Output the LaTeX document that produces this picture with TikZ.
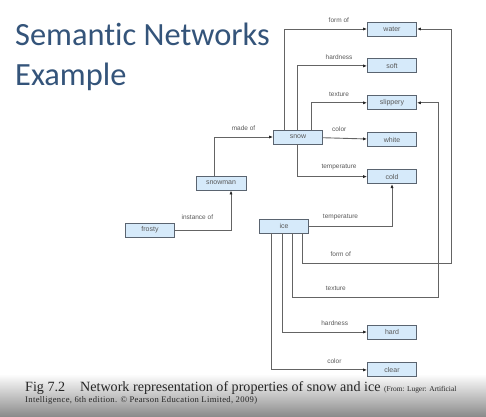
\documentclass[tikz,border=0pt]{standalone}
\usepackage{fontspec}
\setsansfont{Liberation Sans}
\newfontfamily\titlefont[Ligatures=NoCommon]{Carlito}
\newfontfamily\capfont{Liberation Serif}
\usetikzlibrary{positioning,arrows.meta}

\definecolor{titleblue}{RGB}{52,84,122}
\definecolor{boxfill}{RGB}{214,234,250}
\definecolor{boxline}{RGB}{90,100,112}
\definecolor{linkgray}{RGB}{100,100,100}

\begin{document}
\begin{tikzpicture}[
    x=1pt, y=-1pt,
    node distance=22pt,
    box/.style={
        draw=boxline,
        fill=boxfill,
        line width=0.9pt,
        minimum width=49pt,
        minimum height=14pt,
        inner sep=1pt,
        font=\sffamily\fontsize{7}{8}\selectfont,
        text=black!65
    },
    link/.style={
        -{Latex[length=4pt,width=3.2pt,color=black!85]},
        draw=linkgray,
        line width=0.9pt
    },
    lbl/.style={
        font=\sffamily\fontsize{6.5}{7}\selectfont,
        text=black!65,
        inner sep=1pt
    }
]

\fill[white] (0,0) rectangle (486,416);
\shade[top color=white, bottom color=black!45] (0,374) rectangle (486,416);
\useasboundingbox (0,0) rectangle (486,416);

% title
\node[anchor=base west, inner sep=0, text=titleblue,
      font=\titlefont\fontsize{32.4}{36}\selectfont] (title) at (15,45)
{Semantic Networks};
\node[anchor=base west, inner sep=0, text=titleblue,
      font=\titlefont\fontsize{32.4}{36}\selectfont] (titlesub) at (15,85)
{Example};

% values of the properties
\node[box] (water) at (392,29) {water};
\node[box, below=of water] (soft) {soft};
\node[box, below=of soft] (slippery) {slippery};
\node[box, below=of slippery] (white) {white};
\node[box, below=of white] (cold) {cold};
\node[box] (hard) at (392,332) {hard};
\node[box, below=23pt of hard] (clear) {clear};

% objects
\node[box] (snow) at (298,137) {snow};
\node[box, minimum width=50pt] (snowman) at (221,183) {snowman};
\node[box] (frosty) at (150,230) {frosty};
\node[box] (ice) at (284,226) {ice};

\coordinate (icewater) at (451,263);
\coordinate (iceslip) at (438,297);

\draw[link] ([xshift=-14pt]snow.north) |- node[lbl, above=5pt, pos=0.83] {form of} (water);
\draw[link] ([xshift=-1pt]snow.north) |- node[lbl, above=5pt, pos=0.8] {hardness} (soft);
\draw[link] ([xshift=13pt]snow.north) |- node[lbl, above=5pt, pos=0.75] {texture} (slippery);
\draw[link] (snow) -- node[lbl, above=5pt, pos=0.37] {color} (white);
\draw[link] ([xshift=-1pt]snow.south) |- node[lbl, above=5pt, pos=0.8] {temperature} (cold);

\draw[link] ([xshift=-7pt]snowman.north) |- node[lbl, above=5pt, pos=0.75] {made of} (snow);
\draw[link] (frosty) -| node[lbl, above=9pt, pos=0.2] {instance of} ([xshift=10pt]snowman.south);

\draw[link] (ice) -| node[lbl, above=5pt, pos=0.19] {temperature} (cold);
\draw[link] ([xshift=18pt]ice.south) |- node[lbl, above=5pt, pos=0.63] {form of} (icewater) |- (water);
\draw[link] ([xshift=8pt]ice.south) |- node[lbl, above=5pt, pos=0.65] {texture} (iceslip) |- (slippery);
\draw[link] ([xshift=-2pt]ice.south) |- node[lbl, above=5pt, pos=0.81] {hardness} (hard);
\draw[link] ([xshift=-13pt]ice.south) |- node[lbl, above=5pt, pos=0.83] {color} (clear);

% caption
\node[anchor=base west, inner sep=0, text=black!85,
      font=\capfont\fontsize{14.1}{15}\selectfont] (fignum) at (25,391) {Fig 7.2};
\node[anchor=base west, inner sep=0, text=black!85,
      font=\capfont\fontsize{14.1}{15}\selectfont] (figtext) at (80,391)
{Network representation of properties of snow and ice\ {\fontsize{7.4}{9}\selectfont (From: Luger: Artificial}};
\node[anchor=base west, inner sep=0, text=black!85,
      font=\capfont\fontsize{8.6}{10}\selectfont] (figsrc) at (25,402.5)
{\addfontfeature{LetterSpace=4}Intelligence, 6th edition. © Pearson Education Limited, 2009)};

\end{tikzpicture}
\end{document}
